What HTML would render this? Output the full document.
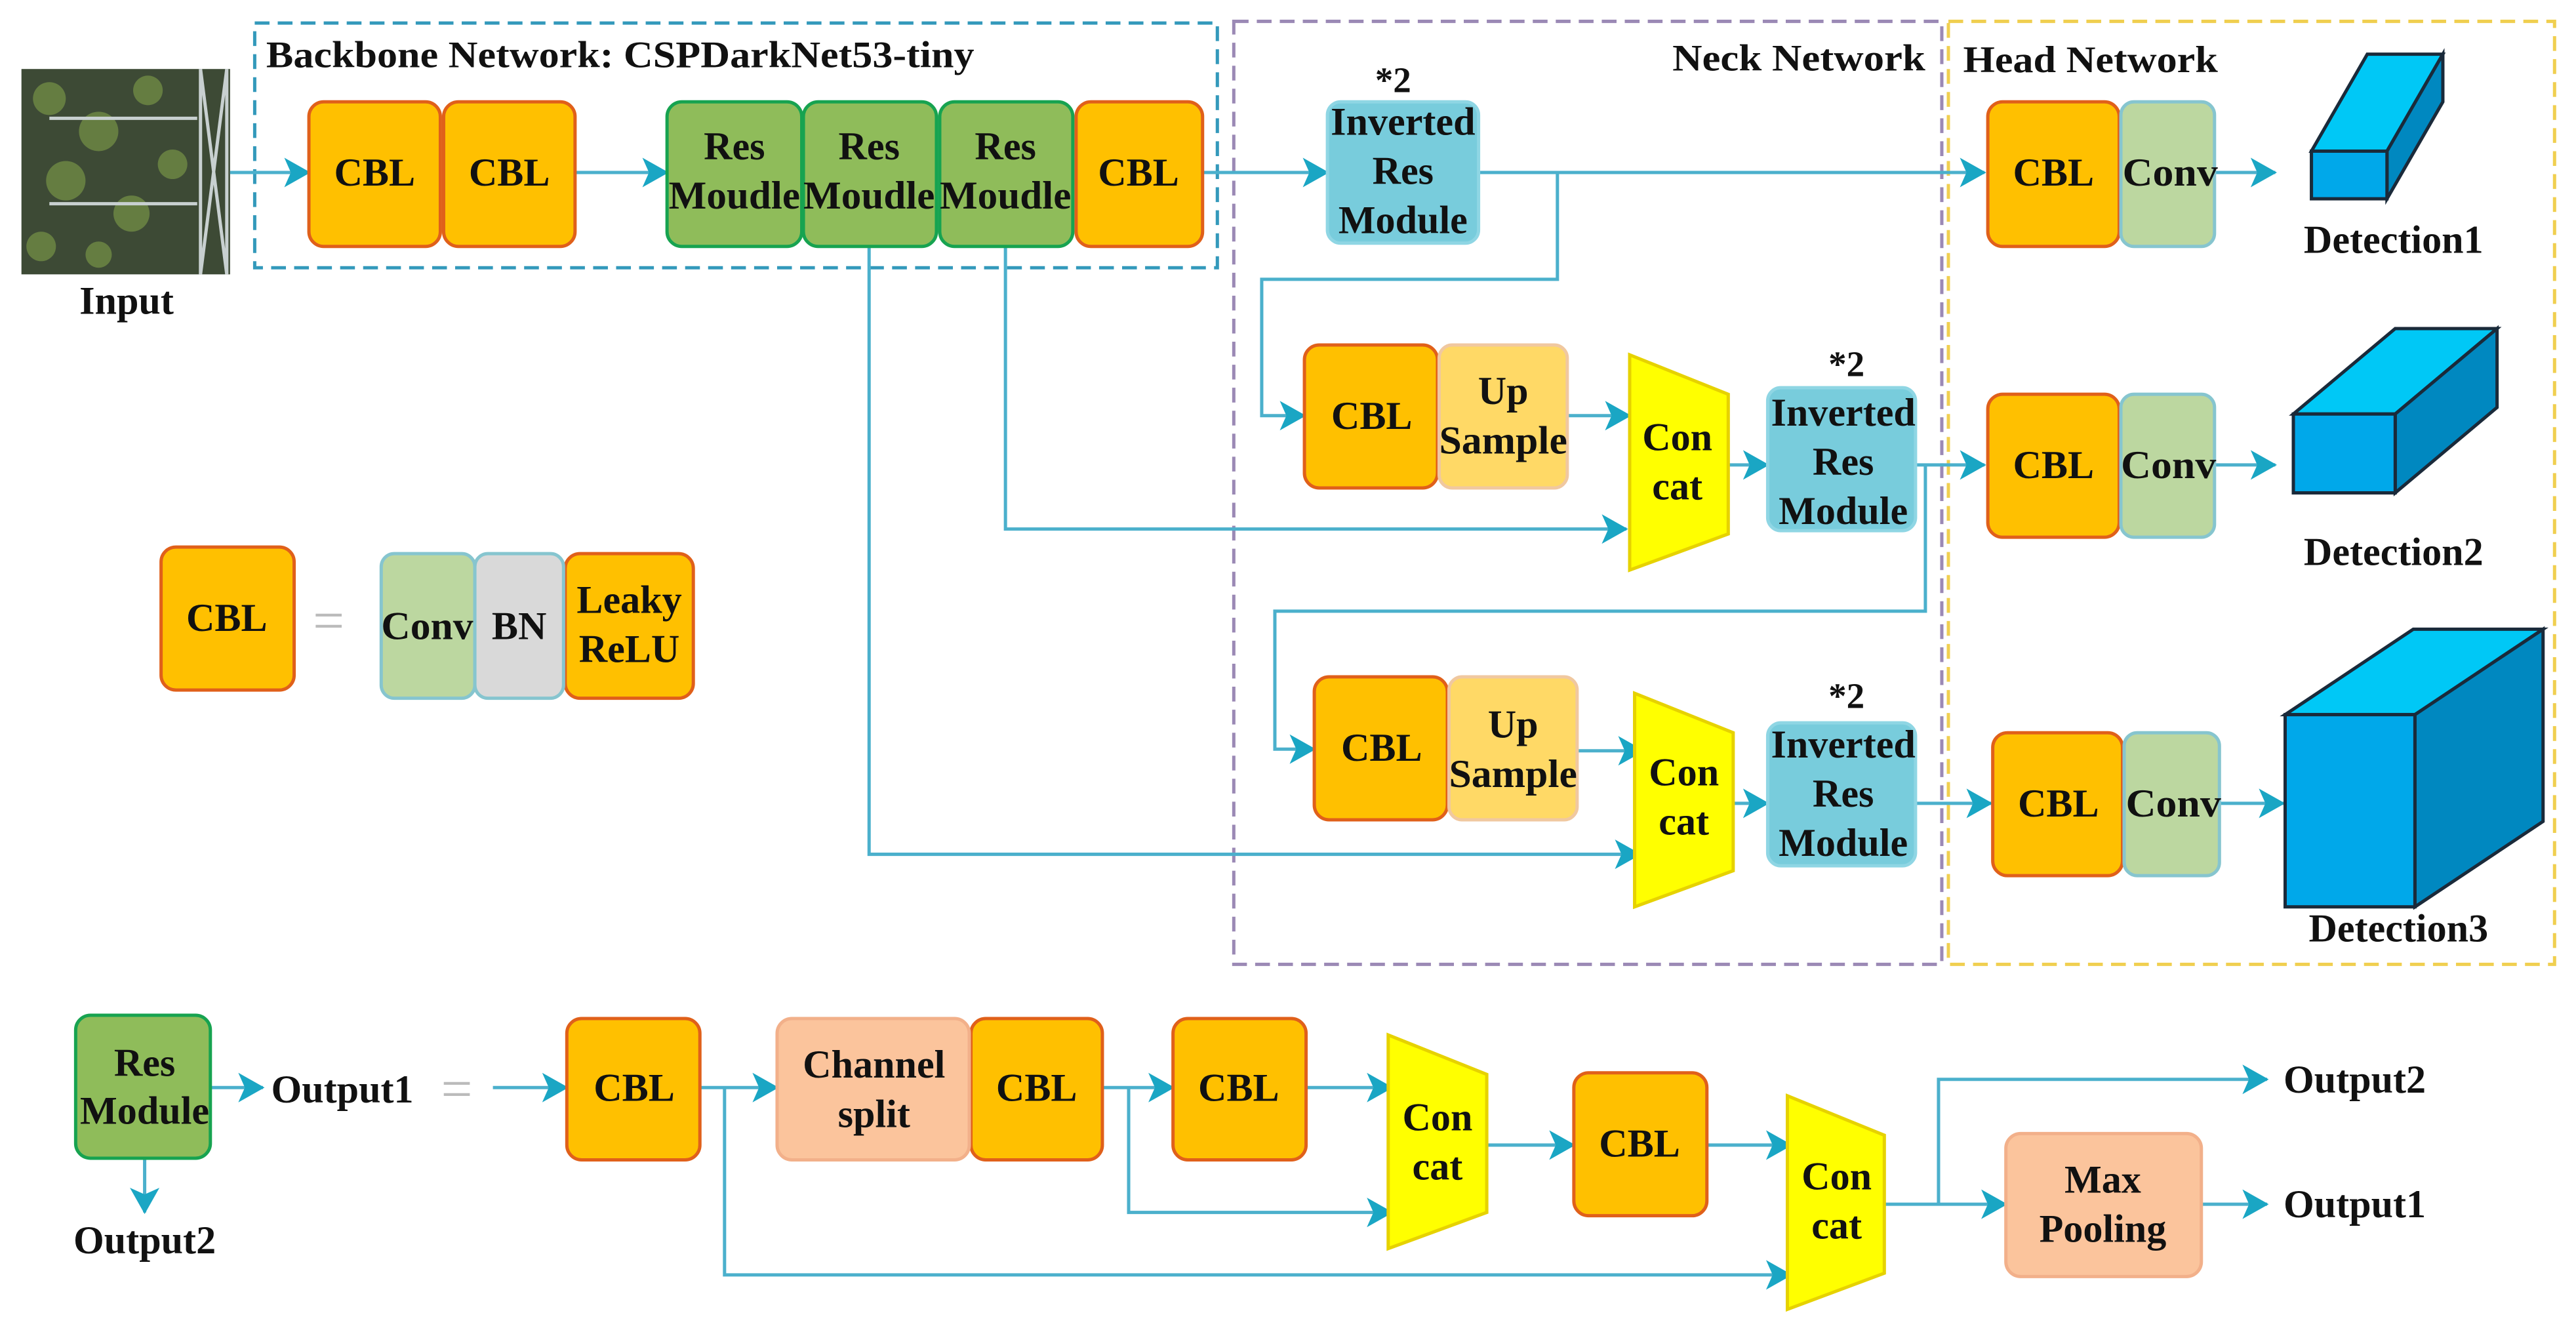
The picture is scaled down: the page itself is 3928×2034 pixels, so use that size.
<!DOCTYPE html>
<html><head><meta charset="utf-8"><style>
html,body{margin:0;padding:0;background:#fff;}
svg{display:block;}
text{font-family:"Liberation Serif",serif;font-weight:bold;fill:#111;}
</style></head><body>
<svg width="3928" height="2034" viewBox="0 0 1568 812" xmlns="http://www.w3.org/2000/svg">
<defs>
<marker id="a" markerUnits="userSpaceOnUse" markerWidth="16" markerHeight="18" refX="15" refY="9" orient="auto"><path d="M0,0 L16,9 L0,18 L4,9 Z" fill="#1aa6c4"/></marker>
</defs>
<rect width="1568" height="812" fill="#fff"/>
<!-- input image -->
<rect x="13" y="42" width="127" height="125" fill="#3d4a35"/>
<g fill="#6f8a45" opacity="0.8"><circle cx="30" cy="60" r="10"/><circle cx="60" cy="80" r="12"/><circle cx="90" cy="55" r="9"/><circle cx="40" cy="110" r="12"/><circle cx="80" cy="130" r="11"/><circle cx="105" cy="100" r="9"/><circle cx="25" cy="150" r="9"/><circle cx="60" cy="155" r="8"/></g>
<g stroke="#c8d0d0" stroke-width="2" fill="none"><line x1="30" y1="72" x2="120" y2="72"/><line x1="30" y1="124" x2="120" y2="124"/><path d="M122,42 L138,167 M138,42 L122,167 M122,42 V167 M138,42 V167"/></g>
<text x="77" y="191" text-anchor="middle" font-size="24">Input</text>

<!-- region boxes -->
<rect x="155" y="14" width="586" height="149" fill="none" stroke="#3399bb" stroke-width="2" stroke-dasharray="9,5"/>
<text x="162" y="41" font-size="23" textLength="431" lengthAdjust="spacingAndGlyphs">Backbone Network: CSPDarkNet53-tiny</text>
<rect x="751" y="13" width="431" height="574" fill="none" stroke="#9b89b5" stroke-width="2" stroke-dasharray="9,5"/>
<text x="1018" y="43" font-size="23" textLength="154" lengthAdjust="spacingAndGlyphs">Neck Network</text>
<rect x="1186" y="13" width="369" height="574" fill="none" stroke="#f0cf50" stroke-width="2" stroke-dasharray="9,5"/>
<text x="1195" y="44" font-size="23" textLength="155" lengthAdjust="spacingAndGlyphs">Head Network</text>

<!-- connectors -->
<g stroke="#4bb0cc" stroke-width="2" fill="none" marker-end="url(#a)">
<line x1="140" y1="105" x2="188" y2="105"/>
<line x1="350" y1="105" x2="406" y2="105"/>
<line x1="732" y1="105" x2="808" y2="105"/>
<line x1="900" y1="105" x2="1208" y2="105"/>
<polyline points="948,105 948,170 768,170 768,253 794,253"/>
<line x1="954" y1="253" x2="992" y2="253"/>
<line x1="1052" y1="283" x2="1076" y2="283"/>
<line x1="1166" y1="283" x2="1208" y2="283"/>
<polyline points="1172,283 1172,372 776,372 776,456 800,456"/>
<line x1="960" y1="457" x2="1000" y2="457"/>
<line x1="1055" y1="489" x2="1076" y2="489"/>
<line x1="1166" y1="489" x2="1212" y2="489"/>
<polyline points="612,150 612,322 990,322"/>
<polyline points="529,150 529,520 998,520"/>
<line x1="1348" y1="105" x2="1385" y2="105"/>
<line x1="1348" y1="283" x2="1385" y2="283"/>
<line x1="1351" y1="489" x2="1390" y2="489"/>
<!-- bottom -->
<line x1="88" y1="705" x2="88" y2="738"/>
<line x1="128" y1="662" x2="160" y2="662"/>
<line x1="300" y1="662" x2="345" y2="662"/>
<line x1="426" y1="662" x2="473" y2="662"/>
<line x1="671" y1="662" x2="714" y2="662"/>
<line x1="795" y1="662" x2="847" y2="662"/>
<polyline points="687,662 687,738 847,738"/>
<line x1="905" y1="697" x2="958" y2="697"/>
<line x1="1039" y1="697" x2="1090" y2="697"/>
<polyline points="441,662 441,776 1090,776"/>
<line x1="1147" y1="733" x2="1221" y2="733"/>
<polyline points="1180,733 1180,657 1380,657"/>
<line x1="1340" y1="733" x2="1380" y2="733"/>
</g>

<!-- boxes -->
<g stroke-width="2">
<g fill="#ffc000" stroke="#e0601a">
<rect x="188" y="62" width="80" height="88" rx="9"/><rect x="270" y="62" width="80" height="88" rx="9"/>
<rect x="655" y="62" width="77" height="88" rx="9"/>
<rect x="794" y="210" width="81" height="87" rx="9"/><rect x="800" y="412" width="81" height="87" rx="9"/>
<rect x="1210" y="62" width="80" height="88" rx="9"/><rect x="1210" y="240" width="80" height="87" rx="9"/><rect x="1213" y="446" width="79" height="87" rx="9"/>
<rect x="98" y="333" width="81" height="87" rx="9"/><rect x="344" y="337" width="78" height="88" rx="9"/>
<rect x="345" y="620" width="81" height="86" rx="9"/><rect x="591" y="620" width="80" height="86" rx="9"/><rect x="714" y="620" width="81" height="86" rx="9"/><rect x="958" y="653" width="81" height="87" rx="9"/>
</g>
<g fill="#8fbc5a" stroke="#17a350">
<rect x="406" y="62" width="82" height="88" rx="9"/><rect x="489" y="62" width="81" height="88" rx="9"/><rect x="572" y="62" width="81" height="88" rx="9"/>
<rect x="46" y="618" width="82" height="87" rx="9"/>
</g>
<g fill="#78ccdc" stroke="#8fd6e4">
<rect x="808" y="62" width="92" height="86" rx="8"/><rect x="1076" y="236" width="90" height="87" rx="8"/><rect x="1076" y="440" width="90" height="87" rx="8"/>
</g>
<g fill="#ffd966" stroke="#f0c8a0">
<rect x="876" y="210" width="78" height="87" rx="8"/><rect x="882" y="412" width="78" height="87" rx="8"/>
</g>
<g fill="#bcd7a0" stroke="#86c5cf">
<rect x="1291" y="62" width="57" height="88" rx="8"/><rect x="1291" y="240" width="57" height="87" rx="8"/><rect x="1293" y="446" width="58" height="87" rx="8"/>
<rect x="232" y="337" width="57" height="88" rx="8"/>
</g>
<rect x="289" y="337" width="54" height="88" rx="8" fill="#d9d9d9" stroke="#86c5cf"/>
<g fill="#fbc49c" stroke="#f2b08a">
<rect x="473" y="620" width="117" height="86" rx="9"/><rect x="1221" y="690" width="119" height="87" rx="9"/>
</g>
<g fill="#ffff00" stroke="#e6d200">
<polygon points="992,216 1052,240 1052,325 992,347"/>
<polygon points="995,422 1055,446 1055,530 995,552"/>
<polygon points="845,630 905,654 905,738 845,760"/>
<polygon points="1088,667 1147,691 1147,775 1088,797"/>
</g>
</g>

<!-- cubes -->
<g stroke="#1a2a3a" stroke-width="2">
<polygon points="1407,92 1453,92 1487,33 1441,33" fill="#00c8f6"/><polygon points="1453,92 1487,33 1487,62 1453,121" fill="#0088c0"/><rect x="1407" y="92" width="46" height="29" fill="#00a8ea"/>
<polygon points="1396,252 1458,252 1520,200 1458,200" fill="#00c8f6"/><polygon points="1458,252 1520,200 1520,248 1458,300" fill="#0088c0"/><rect x="1396" y="252" width="62" height="48" fill="#00a8ea"/>
<polygon points="1391,435 1470,435 1548,383 1469,383" fill="#00c8f6"/><polygon points="1470,435 1548,383 1548,500 1470,552" fill="#0088c0"/><rect x="1391" y="435" width="79" height="117" fill="#00a8ea"/>
</g>

<!-- labels -->
<g font-size="24" text-anchor="middle">
<text x="228" y="113">CBL</text><text x="310" y="113">CBL</text><text x="693" y="113">CBL</text>
<text x="447" y="97">Res</text><text x="447" y="127" textLength="80" lengthAdjust="spacingAndGlyphs">Moudle</text>
<text x="529" y="97">Res</text><text x="529" y="127" textLength="80" lengthAdjust="spacingAndGlyphs">Moudle</text>
<text x="612" y="97">Res</text><text x="612" y="127" textLength="80" lengthAdjust="spacingAndGlyphs">Moudle</text>
<text x="854" y="82">Inverted</text><text x="854" y="112">Res</text><text x="854" y="142">Module</text>
<text x="1122" y="259">Inverted</text><text x="1122" y="289">Res</text><text x="1122" y="319">Module</text>
<text x="1122" y="461">Inverted</text><text x="1122" y="491">Res</text><text x="1122" y="521">Module</text>
<text x="848" y="56" font-size="22">*2</text><text x="1124" y="229" font-size="22">*2</text><text x="1124" y="431" font-size="22">*2</text>
<text x="835" y="261">CBL</text><text x="915" y="246">Up</text><text x="915" y="276" textLength="78" lengthAdjust="spacingAndGlyphs">Sample</text>
<text x="841" y="463">CBL</text><text x="921" y="449">Up</text><text x="921" y="479" textLength="78" lengthAdjust="spacingAndGlyphs">Sample</text>
<text x="1021" y="274">Con</text><text x="1021" y="304">cat</text>
<text x="1025" y="478">Con</text><text x="1025" y="508">cat</text>
<text x="1250" y="113">CBL</text><text x="1321" y="113" textLength="58" lengthAdjust="spacingAndGlyphs">Conv</text>
<text x="1250" y="291">CBL</text><text x="1320" y="291" textLength="58" lengthAdjust="spacingAndGlyphs">Conv</text>
<text x="1253" y="497">CBL</text><text x="1323" y="497" textLength="58" lengthAdjust="spacingAndGlyphs">Conv</text>
<text x="1457" y="154">Detection1</text><text x="1457" y="344">Detection2</text><text x="1460" y="573">Detection3</text>
<text x="138" y="384">CBL</text><text x="260" y="389" textLength="56" lengthAdjust="spacingAndGlyphs">Conv</text><text x="316" y="389">BN</text><text x="383" y="373">Leaky</text><text x="383" y="403">ReLU</text>
<text x="88" y="655">Res</text><text x="88" y="684">Module</text><text x="88" y="763">Output2</text>
<text x="386" y="670">CBL</text><text x="532" y="656">Channel</text><text x="532" y="686">split</text><text x="631" y="670">CBL</text><text x="754" y="670">CBL</text>
<text x="875" y="688">Con</text><text x="875" y="718">cat</text>
<text x="998" y="704">CBL</text>
<text x="1118" y="724">Con</text><text x="1118" y="754">cat</text>
<text x="1280" y="726">Max</text><text x="1280" y="756">Pooling</text>
</g>
<g font-size="24">
<text x="165" y="671">Output1</text>
<text x="1390" y="665">Output2</text><text x="1390" y="741">Output1</text>
</g>
<g font-size="34" text-anchor="middle"><text x="200" y="389" style="fill:#bbb;font-weight:normal">=</text><text x="278" y="674" style="fill:#bbb;font-weight:normal">=</text></g>
</svg>
</body></html>
